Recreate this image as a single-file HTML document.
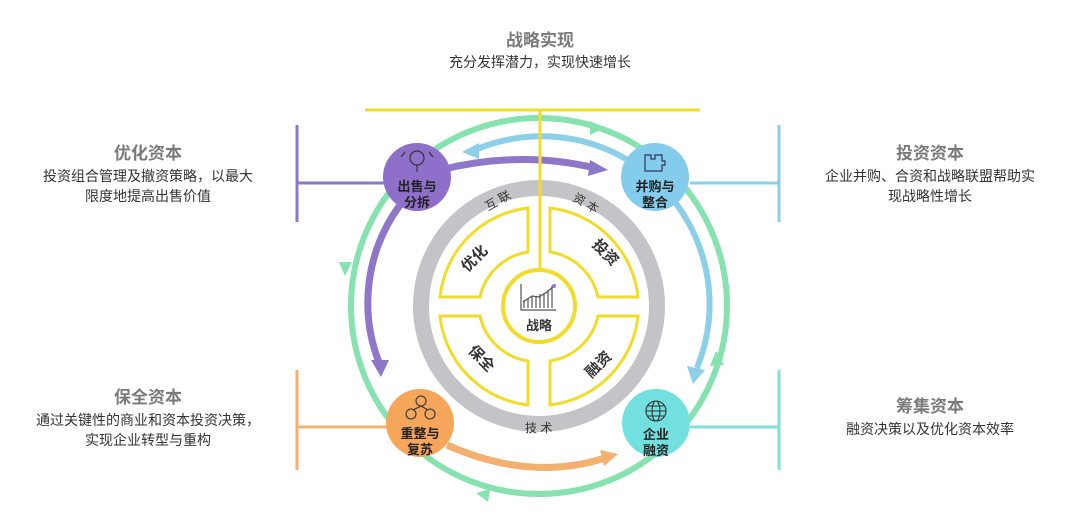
<!DOCTYPE html>
<html><head><meta charset="utf-8"><style>
html,body{margin:0;padding:0;background:#fff;}
svg{display:block;}
text{font-family:"Liberation Sans","Noto Sans CJK SC",sans-serif;}
</style></head><body>
<svg width="1080" height="527" viewBox="0 0 1080 527" xmlns="http://www.w3.org/2000/svg">
<!-- top text -->
<text x="540" y="46" text-anchor="middle" font-size="17" font-weight="bold" fill="#7a7a7a">战略实现</text>
<text x="540" y="67" text-anchor="middle" font-size="14" fill="#333">充分发挥潜力，实现快速增长</text>
<!-- left texts -->
<text x="148" y="159" text-anchor="middle" font-size="17" font-weight="bold" fill="#7a7a7a">优化资本</text>
<text x="148" y="181" text-anchor="middle" font-size="14" fill="#333">投资组合管理及撤资策略，以最大</text>
<text x="148" y="201" text-anchor="middle" font-size="14" fill="#333">限度地提高出售价值</text>
<text x="148" y="403" text-anchor="middle" font-size="17" font-weight="bold" fill="#7a7a7a">保全资本</text>
<text x="148" y="425" text-anchor="middle" font-size="14" fill="#333">通过关键性的商业和资本投资决策，</text>
<text x="148" y="445" text-anchor="middle" font-size="14" fill="#333">实现企业转型与重构</text>
<!-- right texts -->
<text x="930" y="159" text-anchor="middle" font-size="17" font-weight="bold" fill="#7a7a7a">投资资本</text>
<text x="930" y="181" text-anchor="middle" font-size="14" fill="#333">企业并购、合资和战略联盟帮助实</text>
<text x="930" y="201" text-anchor="middle" font-size="14" fill="#333">现战略性增长</text>
<text x="930" y="412" text-anchor="middle" font-size="17" font-weight="bold" fill="#7a7a7a">筹集资本</text>
<text x="930" y="434" text-anchor="middle" font-size="14" fill="#333">融资决策以及优化资本效率</text>
<!-- side brackets -->
<g stroke-width="3" fill="none">
<path d="M297,125 V222 M297,183 H395" stroke="#8e77c8"/>
<path d="M779,125 V222 M779,183 H690" stroke="#8ccfe9"/>
<path d="M297,370 V470 M297,427 H395" stroke="#f3b070"/>
<path d="M779,370 V470 M779,427 H690" stroke="#7fe0dc"/>
</g>
<!-- green outer circle -->
<circle cx="539" cy="306" r="188" fill="none" stroke="#86e2ae" stroke-width="6"/>
<path d="M590,121 l14,7 -14,7 z" fill="#86e2ae"/>
<path d="M352,262 l-7,14 -6,-14 z" fill="#86e2ae"/>
<path d="M710,366 l6,-15 8,14 z" fill="#86e2ae"/>
<path d="M490,489 l-14,4 12,9 z" fill="#86e2ae"/>
<!-- blue arc -->
<path d="M475,150 A168,168 0 0 1 697,368" fill="none" stroke="#8ccfe9" stroke-width="6"/>
<path d="M687,366 l18,4 -12,14 z" fill="#8ccfe9"/>
<path d="M462,152 l17,-9 0,16 z" fill="#8ccfe9"/>
<!-- purple arc -->
<path d="M440,170 Q520,150 595,168" fill="none" stroke="#8e77c8" stroke-width="7"/>
<path d="M590,160 l18,10 -20,6 z" fill="#8e77c8"/>
<path d="M400,205 A165,165 0 0 0 380,365" fill="none" stroke="#8e77c8" stroke-width="7"/>
<path d="M371,360 l18,0 -8,17 z" fill="#8e77c8"/>
<!-- orange arc -->
<path d="M447,445 Q530,482 605,458" fill="none" stroke="#f3b070" stroke-width="7"/>
<path d="M600,450 l18,4 -14,12 z" fill="#f3b070"/>
<!-- gray ring -->
<circle cx="539" cy="306" r="118" fill="none" stroke="#c4c4c8" stroke-width="16"/>
<text x="488" y="211" font-size="12" fill="#333" transform="rotate(-30 488 211)">互 联</text>
<text x="572" y="200" font-size="12" fill="#333" transform="rotate(30 572 200)">资 本</text>
<text x="525" y="432" font-size="12" fill="#333">技 术</text>
<!-- yellow T -->
<path d="M365,110 H700 M540,110 V270" stroke="#f2dc2a" stroke-width="3" fill="none"/>
<!-- quadrant sectors -->
<g fill="#fff" stroke="#f2dc2a" stroke-width="3">
<path d="M528,208 A100,100 0 0 0 440,297 L480,297 A58,58 0 0 1 528,252 Z"/>
<path d="M550,208 A100,100 0 0 1 638,297 L598,297 A58,58 0 0 0 550,252 Z"/>
<path d="M528,405 A100,100 0 0 1 440,316 L480,316 A58,58 0 0 0 528,361 Z"/>
<path d="M550,405 A100,100 0 0 0 638,316 L598,316 A58,58 0 0 1 550,361 Z"/>
</g>
<text x="478" y="262" text-anchor="middle" font-size="15" font-weight="bold" fill="#333" transform="rotate(-45 478 262)">优化</text>
<text x="602" y="256" text-anchor="middle" font-size="15" font-weight="bold" fill="#333" transform="rotate(45 602 256)">投资</text>
<text x="478" y="362" text-anchor="middle" font-size="15" font-weight="bold" fill="#333" transform="rotate(45 478 362)">保全</text>
<text x="602" y="368" text-anchor="middle" font-size="15" font-weight="bold" fill="#333" transform="rotate(-45 602 368)">融资</text>
<!-- center -->
<circle cx="539" cy="306" r="36" fill="#fff" stroke="#f2dc2a" stroke-width="4"/>
<g stroke="#555" stroke-width="1.2" fill="none">
<path d="M521,284 V310 H556"/>
<path d="M524,308 V300 M528,308 V298 M532,308 V296 M536,308 V297 M540,308 V294 M544,308 V293 M548,308 V290 M552,308 V286"/>
<path d="M523,302 L532,296 L539,297 L547,292 L554,286"/>
</g>
<circle cx="554" cy="286" r="2" fill="#a070d0"/>
<text x="539" y="330" text-anchor="middle" font-size="13" font-weight="bold" fill="#333">战略</text>
<!-- nodes -->
<circle cx="417" cy="177" r="34" fill="#8e6fc9"/>
<circle cx="417" cy="158" r="7" fill="none" stroke="#333" stroke-width="1.2"/>
<path d="M417,165 V172 M405,152 l-4,5 M429,152 l4,5" stroke="#333" stroke-width="1.2"/>
<text x="417" y="191" text-anchor="middle" font-size="13" font-weight="bold" fill="#222">出售与</text>
<text x="417" y="207" text-anchor="middle" font-size="13" font-weight="bold" fill="#222">分拆</text>
<circle cx="655" cy="177" r="34" fill="#83ccec"/>
<path d="M645,155 h6 v4 h4 v-4 h7 v6 h3 v4 h-3 v6 h-17 z" fill="none" stroke="#335" stroke-width="1.2"/>
<text x="655" y="191" text-anchor="middle" font-size="13" font-weight="bold" fill="#222">并购与</text>
<text x="655" y="207" text-anchor="middle" font-size="13" font-weight="bold" fill="#222">整合</text>
<circle cx="420" cy="423" r="34" fill="#f5a65b"/>
<g fill="none" stroke="#333" stroke-width="1.1">
<circle cx="421" cy="401" r="5"/><circle cx="411" cy="414" r="5"/><circle cx="430" cy="414" r="5"/>
<path d="M421,406 L413,410 M421,406 L428,410"/>
</g>
<text x="420" y="438" text-anchor="middle" font-size="13" font-weight="bold" fill="#222">重整与</text>
<text x="420" y="454" text-anchor="middle" font-size="13" font-weight="bold" fill="#222">复苏</text>
<circle cx="656" cy="423" r="34" fill="#72e0de"/>
<g fill="none" stroke="#333" stroke-width="1.1">
<circle cx="656" cy="411" r="10"/><ellipse cx="656" cy="411" rx="4" ry="10"/><path d="M646,411 h20 M648,406 h16 M648,416 h16"/>
</g>
<text x="656" y="439" text-anchor="middle" font-size="13" font-weight="bold" fill="#222">企业</text>
<text x="656" y="455" text-anchor="middle" font-size="13" font-weight="bold" fill="#222">融资</text>
</svg>
</body></html>
